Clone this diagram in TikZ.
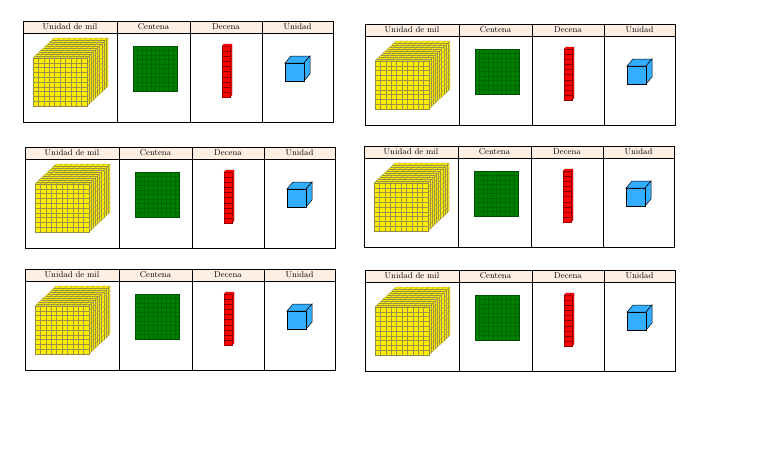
\documentclass[tikz,border=0pt]{standalone}
\begin{document}
\begin{tikzpicture}[x=1pt,y=-1pt,
  frame/.style={draw=black,line width=0.8pt},
  head/.style={fill=pink!35!orange!15},
  lbl/.style={font=\fontsize{8.5}{9}\selectfont},
  ycol/.style={fill=yellow!95!orange,draw=yellow!50!black,line width=0.3pt},
  yln/.style={draw=yellow!55!black,line width=0.25pt},
  gcol/.style={fill=green!50!black,draw=black!70!green,line width=0.25pt},
  rcol/.style={fill=red,draw=red!60!black,line width=0.3pt},
  bcol/.style={fill=blue!40!cyan!80,draw=black,line width=0.5pt}]
\useasboundingbox (0,0) rectangle (768,466);
\newcommand\mytable[3]{%
\begin{scope}[shift={(#1,#2)}]
 \fill[head] (0,0) rectangle (310,12);
 \draw[frame] (0,0) rectangle (310,101);
 \draw[frame] (0,12) -- (310,12);
 \foreach \c in {94,167,239} \draw[frame] (\c,0) -- (\c,101);
 \node[lbl] (h1#3) at (47,6) {Unidad de mil};
 \node[lbl] (h2#3) at (130.5,6) {Centena};
 \node[lbl] (h3#3) at (203,6) {Decena};
 \node[lbl] (h4#3) at (274.5,6) {Unidad};
 % thousand cube
 \draw[ycol] (10,37) -- (31,17) -- (85,17) -- (64,37) -- cycle;
 \draw[ycol] (64,37) -- (85,17) -- (85,65) -- (64,85) -- cycle;
 \draw[ycol] (10,37) rectangle (64,85);
 \foreach \i in {1,...,9} {
   \draw[yln] (10+5.4*\i,37) -- (10+5.4*\i,85);
   \draw[yln] (10,37+4.8*\i) -- (64,37+4.8*\i);
   \draw[yln] (64+2.1*\i,37-2*\i) -- (64+2.1*\i,85-2*\i);
   \draw[yln] (64,37+4.8*\i) -- (85,17+4.8*\i);
   \draw[yln] (10+5.4*\i,37) -- (31+5.4*\i,17);
   \draw[yln] (10+2.1*\i,37-2*\i) -- (64+2.1*\i,37-2*\i);
 }
 % hundred square
 \draw[gcol] (110,25) rectangle (154,70);
 \foreach \i in {1,...,9} {
   \draw[black!60!green,line width=0.2pt] (110+4.4*\i,25) -- (110+4.4*\i,70);
   \draw[black!60!green,line width=0.2pt] (110,25+4.5*\i) -- (154,25+4.5*\i);
 }
 % ten rod
 \draw[rcol] (199,25) -- (201,23) -- (209,23) -- (209,74) -- (207,76) -- cycle;
 \draw[rcol] (199,25) rectangle (207,76);
 \foreach \i in {1,...,9} \draw[red!50!black,line width=0.2pt] (199,25+5.1*\i) -- (207,25+5.1*\i);
 % unit cube
 \draw[bcol] (262,42) -- (268,35) -- (287,35) -- (281,42) -- cycle;
 \draw[bcol] (281,42) -- (287,35) -- (287,53) -- (281,60) -- cycle;
 \draw[bcol] (262,42) rectangle (281,60);
 \draw[black,line width=1pt] (262,42) -- (281,42);
\end{scope}}
\mytable{23}{21}{a}
\mytable{365}{24}{b}
\mytable{25}{147}{c}
\mytable{364}{146}{d}
\mytable{25}{269}{e}
\mytable{365}{270}{f}
\end{tikzpicture}
\end{document}
